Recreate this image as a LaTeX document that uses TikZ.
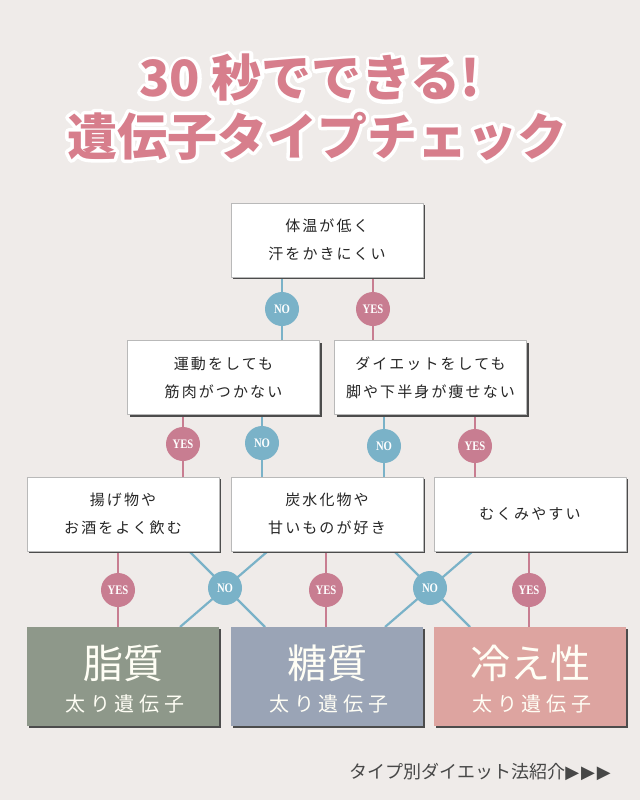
\documentclass[tikz,border=0pt]{standalone}
\usepackage{fontspec}
\newfontfamily\jp{Noto Sans CJK JP}
\newfontfamily\jpbox[LetterSpace=14]{Noto Sans CJK JP}
\newfontfamily\jpres[LetterSpace=23]{Noto Sans CJK JP}
\newfontfamily\ansfont[FakeStretch=0.82]{Liberation Serif}
\newfontfamily\symfont{DejaVu Sans}
\usetikzlibrary{shadows,calc}
\pgfdeclarelayer{bg}
\pgfsetlayers{bg,main}
\newcommand\rimtext[1]{\special{pdf:literal direct 1 Tr 7 w 1 j}#1\special{pdf:literal direct 0 Tr}}
\definecolor{bgc}{HTML}{EFEBE9}
\definecolor{titlec}{HTML}{D77E8C}
\definecolor{noc}{HTML}{7AB2C8}
\definecolor{yesc}{HTML}{C87D91}
\definecolor{fatc}{HTML}{8E988A}
\definecolor{sugarc}{HTML}{9AA4B6}
\definecolor{coldc}{HTML}{DDA4A0}
\definecolor{inkc}{HTML}{262626}
\begin{document}
\begin{tikzpicture}[x=1pt,y=-1pt,line join=round,line cap=round,
	title/.style={font=\jp\bfseries\fontsize{50}{50}\selectfont,text=titlec,inner sep=0pt},
	qbox/.style={draw=gray!55,line width=0.6pt,fill=white,minimum width=192pt,minimum height=74pt,inner sep=0pt,align=center,text=inkc,font=\jpbox\fontsize{15}{28}\selectfont,drop shadow={shadow xshift=2.2pt,shadow yshift=-2.2pt,fill=black!70,opacity=1}},
	rbox/.style={minimum width=192pt,minimum height=99pt,inner sep=0pt,drop shadow={shadow xshift=2.2pt,shadow yshift=-2.2pt,fill=black!70,opacity=1}},
	rname/.style={text=white!96!yellow,font=\jp\fontsize{40}{40}\selectfont,inner sep=0pt},
	rsub/.style={text=white!96!yellow,font=\jpres\fontsize{20}{20}\selectfont,inner sep=0pt},
	ans/.style={circle,minimum size=34pt,inner sep=0pt,text=white,font=\ansfont\bfseries\fontsize{13}{13}\selectfont},
	yes/.style={ans,fill=yesc},
	no/.style={ans,fill=noc},
	yesline/.style={draw=yesc,line width=2.2pt},
	noline/.style={draw=noc,line width=2.2pt}]
	\useasboundingbox (0,0) rectangle (640,800);
	\begin{pgfonlayer}{bg}
	\fill[bgc] (0,0) rectangle (640,800);
	\end{pgfonlayer}
	\node[title,text=white] (r1) at (310,78) {\rimtext{30 秒でできる!}};
	\node[title,text=white] (r2) at (317,136) {\rimtext{遺伝子タイプチェック}};
	\node[title] (t1) at (310,78) {30 秒でできる!};
	\node[title] (t2) at (317,136) {遺伝子タイプチェック};
	\node[qbox] (top) at (327,240) {体温が低く\\汗をかきにくい};
	\node[qbox] (q2a) at (223.5,377.5) {運動をしても\\筋肉がつかない};
	\node[qbox] (q2b) at (430.5,377.5) {ダイエットをしても\\脚や下半身が痩せない};
	\node[qbox] (q3a) at (123,514) {揚げ物や\\お酒をよく飲む};
	\node[qbox] (q3b) at (327,514) {炭水化物や\\甘いものが好き};
	\node[qbox] (q3c) at (530,514) {むくみやすい};
	\node[rbox,fill=fatc] (fat) at (123,676.5) {};
	\node[rbox,fill=sugarc] (sugar) at (327,676.5) {};
	\node[rbox,fill=coldc] (cold) at (530,676.5) {};
	\node[rname] (fatn) at (123,663) {脂質};
	\node[rname] (sugarn) at (327,663) {糖質};
	\node[rname] (coldn) at (530,663) {冷え性};
	\node[rsub] (fats) at (125,704) {太り遺伝子};
	\node[rsub] (sugars) at (329,704) {太り遺伝子};
	\node[rsub] (colds) at (532,704) {太り遺伝子};
	\node[no] (no1) at (282,309) {NO};
	\node[yes] (yes1) at (373,309) {YES};
	\node[yes] (yes2) at (183,444) {YES};
	\node[no] (no2) at (262,443) {NO};
	\node[no] (no3) at (384,446) {NO};
	\node[yes] (yes3) at (475,446) {YES};
	\node[yes] (yes4) at (118,590) {YES};
	\node[no] (no4) at (225,588) {NO};
	\node[yes] (yes5) at (326,590) {YES};
	\node[no] (no5) at (430,588) {NO};
	\node[yes] (yes6) at (529,590) {YES};
	\begin{pgfonlayer}{bg}
	\draw[noline] (top.south -| no1) -- (no1 |- q2a.north);
	\draw[yesline] (top.south -| yes1) -- (yes1 |- q2b.north);
	\draw[yesline] (q2a.south -| yes2) -- (yes2 |- q3a.north);
	\draw[noline] (q2a.south -| no2) -- (no2 |- q3b.north);
	\draw[noline] (q2b.south -| no3) -- (no3 |- q3b.north);
	\draw[yesline] (q2b.south -| yes3) -- (yes3 |- q3c.north);
	\draw[yesline] (q3a.south -| yes4) -- (yes4 |- fat.north);
	\draw[yesline] (q3b.south -| yes5) -- (yes5 |- sugar.north);
	\draw[yesline] (q3c.south -| yes6) -- (yes6 |- cold.north);
	\foreach \n in {no4,no5}
		\draw[noline] ($(\n)+(-36,-37)$) -- ($(\n)+(40,39)$) ($(\n)+(43,-37)$) -- ($(\n)+(-45,39)$);
	\end{pgfonlayer}
	\node[anchor=east,text=black!72,font=\jp\fontsize{18}{18}\selectfont,inner sep=0pt] (more) at (611,772) {タイプ別ダイエット法紹介{\symfont\fontsize{18}{18}\selectfont ▶\kern2pt▶\kern2pt▶}};
\end{tikzpicture}
\end{document}
